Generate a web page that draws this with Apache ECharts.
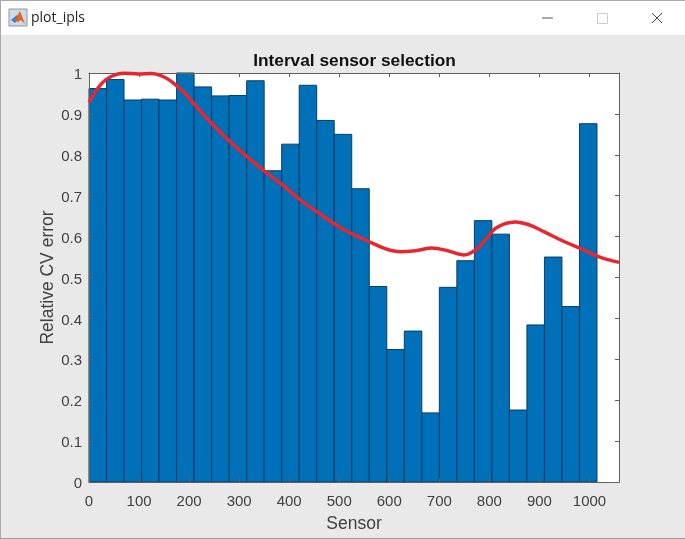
<!DOCTYPE html>
<html>
<head>
<meta charset="utf-8">
<title>plot_ipls</title>
<script src="https://cdn.jsdelivr.net/npm/echarts@6/dist/echarts.min.js"></script>
<style>
  html, body { margin: 0; padding: 0; background: #e9e9e9; }
  #chart { width: 685px; height: 539px; }
</style>
</head>
<body>
<div id="chart"></div>
<script>
// interval edges, one bar per interval
const intervalStart = [0, 35, 70, 105, 140, 175, 210, 245, 280, 315, 350, 385, 420, 455, 490, 525, 560, 595, 630, 665, 700, 735, 770, 805, 840, 875, 910, 945, 980];
const intervalEnd = [35, 70, 105, 140, 175, 210, 245, 280, 315, 350, 385, 420, 455, 490, 525, 560, 595, 630, 665, 700, 735, 770, 805, 840, 875, 910, 945, 980, 1015];
const cvError = [0.962, 0.984, 0.934, 0.936, 0.934, 1.0, 0.966, 0.944, 0.945, 0.981, 0.761, 0.826, 0.970, 0.884, 0.850, 0.717, 0.478, 0.324, 0.369, 0.169, 0.476, 0.541, 0.639, 0.606, 0.176, 0.384, 0.550, 0.429, 0.876];

// red curve
const curveX = [0, 25, 45, 69, 99, 125, 152, 172, 192, 212, 245, 282, 315, 352, 389, 422, 455, 505, 559, 593, 622, 655, 685, 715, 749, 772, 792, 812, 832, 852, 879, 909, 949, 982, 1022, 1059];
const curveY = [0.928, 0.974, 0.992, 0.9995, 0.9975, 0.999, 0.989, 0.972, 0.95, 0.922, 0.877, 0.832, 0.796, 0.759, 0.724, 0.69, 0.661, 0.62, 0.588, 0.57, 0.563, 0.566, 0.572, 0.566, 0.555, 0.567, 0.592, 0.62, 0.632, 0.636, 0.629, 0.612, 0.588, 0.571, 0.549, 0.537];

const xTicks = [0, 100, 200, 300, 400, 500, 600, 700, 800, 900, 1000];
const yTicks = [0, 0.1, 0.2, 0.3, 0.4, 0.5, 0.6, 0.7, 0.8, 0.9, 1];

const axisColor = "#5f5f5f";
const labelColor = "#404040";
const fontName = "Liberation Sans";

function renderBar(params, api) {
  const topLeft = api.coord([api.value(0), api.value(2)]);
  const bottomRight = api.coord([api.value(1), 0]);
  return {
    type: "rect",
    shape: {
      x: topLeft[0],
      y: topLeft[1],
      width: bottomRight[0] - topLeft[0],
      height: bottomRight[1] - topLeft[1],
    },
    style: { fill: "#0070b8", stroke: "#0b3d63", lineWidth: 1 },
  };
}

const chart = echarts.init(document.getElementById("chart"), null, { renderer: "canvas" });

chart.setOption({
  animation: false,
  backgroundColor: "#e9e9e9",
  textStyle: { fontFamily: fontName },
  grid: { left: 89, top: 73, width: 530, height: 409, show: true, backgroundColor: "#ffffff", borderWidth: 0 },
  xAxis: [
    {
      type: "value",
      min: 0,
      max: 1059,
      z: 3,
      name: "Sensor",
      nameLocation: "middle",
      nameGap: 33,
      nameMoveOverlap: false,
      nameTextStyle: { fontFamily: fontName, fontSize: 17.5, color: labelColor },
      axisLine: { show: true, onZero: false, lineStyle: { color: axisColor, width: 1 } },
      axisTick: { show: true, inside: true, length: 4, customValues: xTicks, lineStyle: { color: axisColor } },
      axisLabel: { customValues: xTicks, margin: 12, formatter: (v) => String(v), fontFamily: fontName, fontSize: 15, color: labelColor },
      splitLine: { show: false },
    },
    {
      type: "value",
      position: "top",
      min: 0,
      max: 1059,
      z: 3,
      axisLine: { show: true, onZero: false, lineStyle: { color: axisColor, width: 1 } },
      axisTick: { show: true, inside: true, length: 4, customValues: xTicks, lineStyle: { color: axisColor } },
      axisLabel: { show: false },
      splitLine: { show: false },
    },
  ],
  yAxis: [
    {
      type: "value",
      min: 0,
      max: 1,
      z: 3,
      name: "Relative CV error",
      nameLocation: "middle",
      nameGap: 32,
      nameMoveOverlap: false,
      nameTextStyle: { fontFamily: fontName, fontSize: 17.5, color: labelColor },
      axisLine: { show: true, onZero: false, lineStyle: { color: axisColor, width: 1 } },
      axisTick: { show: true, inside: true, length: 4, customValues: yTicks, lineStyle: { color: axisColor } },
      axisLabel: { customValues: yTicks, margin: 7, verticalAlign: "top", lineHeight: 4, fontFamily: fontName, fontSize: 15, color: labelColor },
      splitLine: { show: false },
    },
    {
      type: "value",
      position: "right",
      min: 0,
      max: 1,
      z: 3,
      axisLine: { show: true, onZero: false, lineStyle: { color: axisColor, width: 1 } },
      axisTick: { show: true, inside: true, length: 4, customValues: yTicks, lineStyle: { color: axisColor } },
      axisLabel: { show: false },
      splitLine: { show: false },
    },
  ],
  series: [
    {
      type: "custom",
      z: 2,
      clip: false,
      renderItem: renderBar,
      encode: { x: [0, 1], y: 2 },
      data: intervalStart.map((s, i) => [s, intervalEnd[i], cvError[i]]),
    },
    {
      type: "line",
      z: 5,
      smooth: 0.4,
      showSymbol: false,
      clip: false,
      lineStyle: { color: "#e8262f", width: 3.5 },
      data: curveX.map((x, i) => [x, curveY[i]]),
    },
  ],
  // the window frame around the figure, and the title
  graphic: [
    { type: "rect", silent: true, shape: { x: 0, y: 0, width: 685, height: 35 }, style: { fill: "#ffffff" } },
    { type: "rect", silent: true, shape: { x: 0, y: 0, width: 685, height: 1 }, style: { fill: "#a8a8a8" } },
    { type: "rect", silent: true, shape: { x: 0, y: 0, width: 1, height: 539 }, style: { fill: "#a8a8a8" } },
    { type: "rect", silent: true, shape: { x: 0, y: 538, width: 685, height: 1 }, style: { fill: "#9a9f9f" } },
    { type: "rect", silent: true, shape: { x: 9, y: 9, width: 18, height: 17 }, style: { fill: "#cfd8e3", stroke: "#8a98a8", lineWidth: 1 } },
    { type: "polygon", silent: true, shape: { points: [[11, 20], [17, 15], [20, 18], [15, 23]] }, style: { fill: "#3b7fc4" } },
    { type: "polygon", silent: true, shape: { points: [[15, 20], [20, 11], [25, 24], [21, 20], [18, 22]] }, style: { fill: "#e2641e" } },
    { type: "text", silent: true, x: 31, y: 18, style: { text: "plot_ipls", fontFamily: "Open Sans", fontSize: 14, fill: "#222222", verticalAlign: "middle" } },
    { type: "text", silent: true, x: 354.5, y: 61, style: { text: "Interval sensor selection", fontFamily: fontName, fontSize: 17.3, fontWeight: "bold", fill: "#111111", align: "center", verticalAlign: "middle" } },
    { type: "line", silent: true, shape: { x1: 542, y1: 18, x2: 553, y2: 18 }, style: { stroke: "#555555", lineWidth: 1 } },
    { type: "rect", silent: true, shape: { x: 597.5, y: 13.5, width: 10, height: 10 }, style: { fill: "none", stroke: "#cccccc", lineWidth: 1 } },
    { type: "line", silent: true, shape: { x1: 652, y1: 13, x2: 662, y2: 23 }, style: { stroke: "#444444", lineWidth: 1 } },
    { type: "line", silent: true, shape: { x1: 662, y1: 13, x2: 652, y2: 23 }, style: { stroke: "#444444", lineWidth: 1 } },
  ],
});

window.addEventListener("resize", chart.resize);
</script>
</body>
</html>
